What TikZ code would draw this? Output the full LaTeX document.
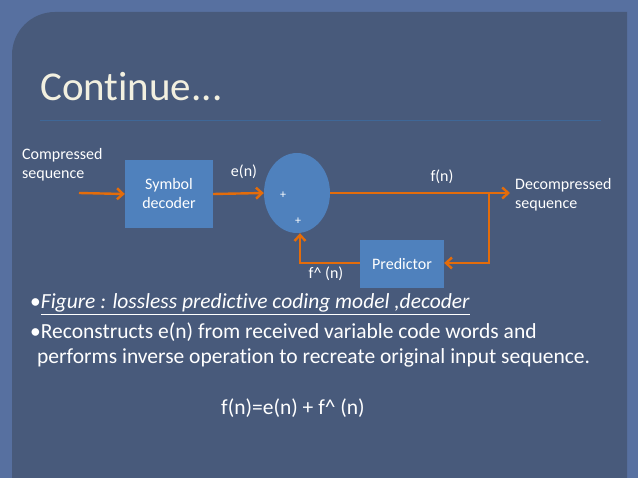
\documentclass[tikz,border=0pt]{standalone}
\usepackage{fontspec}
\setmainfont{Carlito}[Ligatures=NoCommon]
\usetikzlibrary{arrows.meta,shapes.geometric}
\definecolor{outerbg}{HTML}{5770A0}
\definecolor{panel}{HTML}{485A7B}
\definecolor{boxblue}{HTML}{4F81BD}
\definecolor{arr}{HTML}{E46C0A}
\definecolor{titlec}{HTML}{F2F0E0}
\tikzset{
  blk/.style={fill=boxblue,draw=none,text=white,font=\fontsize{16}{19}\selectfont,align=center},
  lbl/.style={text=white,font=\fontsize{16}{19}\selectfont,align=left,inner sep=0pt},
  con/.style={draw=arr,line width=2.4pt,-{Straight Barb[length=6pt,width=11pt]}},
  body/.style={text=white,font=\fontsize{21.5}{25}\selectfont,anchor=base west,inner sep=0pt}
}
\begin{document}
\begin{tikzpicture}[x=1pt,y=-1pt]
\fill[outerbg] (0,0) rectangle (638,478);
\useasboundingbox (0,0) rectangle (638,478);
\fill[panel] (12,478) -- (12,55) arc[start angle=180,end angle=270,radius=43] -- (627,12) -- (627,478) -- cycle;
\node[text=titlec,font=\fontsize{41}{46}\selectfont,anchor=base west,inner sep=0pt] (title) at (40,101) {Continue...};
\coordinate (l1) at (40,121); \coordinate (l2) at (601,121);
\draw[boxblue!80!black,line width=1pt] (l1) -- (l2);

\node[blk,minimum width=88,minimum height=68] (dec) at (169,194) {Symbol\\decoder};
\node[ellipse,fill=boxblue,minimum width=66,minimum height=80,inner sep=0pt] (sum) at (297,193) {};
\node[blk,minimum width=84,minimum height=48] (pred) at (402,264) {Predictor};
\coordinate (in) at (79,193);
\coordinate (out) at (510,193);
\coordinate (br) at (489,193);
\coordinate (br2) at (489,263);
\coordinate (pl) at (300,263);

\draw[con] (in) -- (dec.west);
\draw[con] (dec.east) -- (sum.west);
\draw[con] (sum.east) -- (out);
\draw[con] (br) -- (br2) -- (pred.east|-br2);
\draw[con] (pred.west|-pl) -- (pl) -- (pl|-sum.south);

\node[lbl,anchor=north west] (cs) at (22,148) {Compressed\\sequence};
\node[lbl,anchor=north west] (ds) at (515,178) {Decompressed\\sequence};
\node[lbl] (en) at (244,172) {e(n)};
\node[lbl] (fn) at (442,177) {f(n)};
\node[lbl,font=\fontsize{12}{14}\selectfont] (p1) at (283,195) {+};
\node[lbl,font=\fontsize{12}{14}\selectfont] (p2) at (298,221) {+};
\node[lbl] (fh) at (326,274) {f\textasciicircum\ (n)};

\node[body] (b1) at (30,309) {•\underline{\itshape Figure : lossless predictive coding model ,decoder}};
\node[body] (b2) at (30,339) {•Reconstructs e(n) from received variable code words and};
\node[body] (b3) at (37,364) {performs inverse operation to recreate original input sequence.};
\node[body,anchor=base] (eq) at (293,415) {f(n)=e(n) + f\textasciicircum\ (n)};
\end{tikzpicture}
\end{document}
